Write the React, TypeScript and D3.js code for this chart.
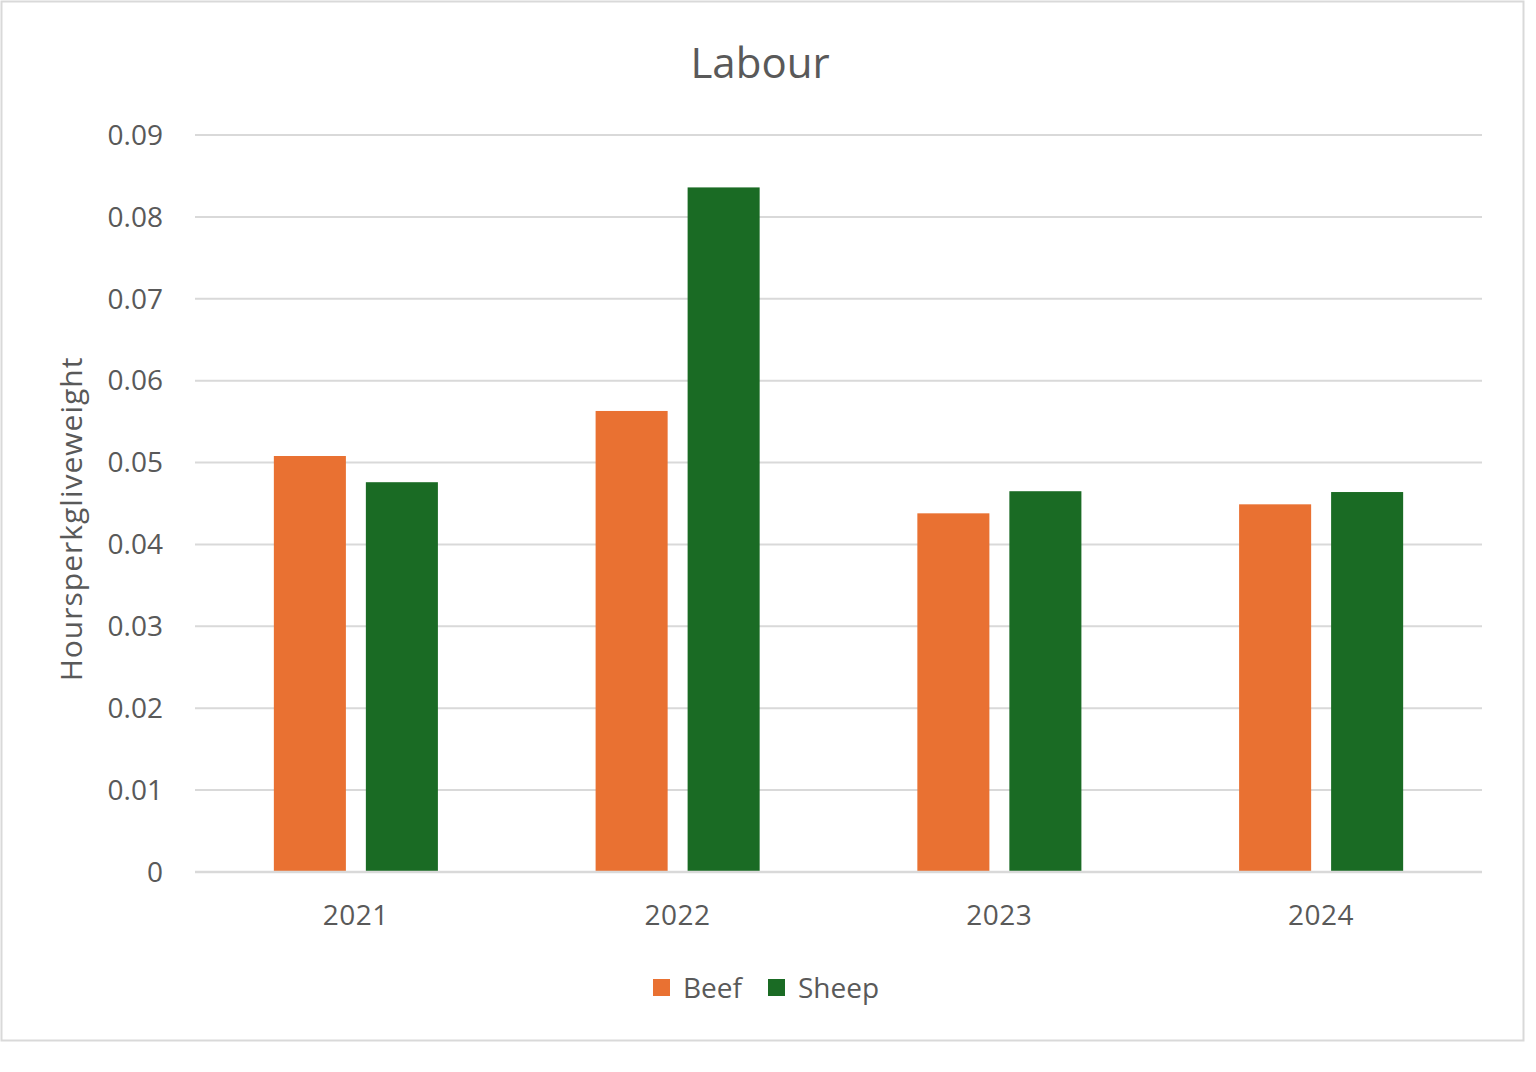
import React, { useEffect, useRef } from "react";
import * as d3 from "d3";

const years = ["2021", "2022", "2023", "2024"];
const seriesNames = ["Beef", "Sheep"];
const beefValues = [0.0508, 0.0563, 0.0438, 0.0449];
const sheepValues = [0.0476, 0.0836, 0.0465, 0.0464];
const yTicks = [0, 0.01, 0.02, 0.03, 0.04, 0.05, 0.06, 0.07, 0.08, 0.09];
const colors = ["#E97132", "#1A6B24"];

const W = 1536;
const H = 1072;
const FONT = "'Open Sans', sans-serif";
const TEXT = "#595959";

const App = () => {
  const svgRef = useRef<SVGSVGElement>(null);

  useEffect(() => {
    const svg = d3.select(svgRef.current);
    svg.selectAll("*").remove();

    const margin = { top: 135, right: 54, bottom: 200, left: 195 };
    const plotW = 1482 - margin.left;
    const plotH = 872 - margin.top;

    // chart frame
    svg
      .append("rect")
      .attr("x", 1.5)
      .attr("y", 1.5)
      .attr("width", 1522)
      .attr("height", 1039)
      .attr("fill", "#fff")
      .attr("stroke", "#d9d9d9")
      .attr("stroke-width", 2);

    svg
      .append("text")
      .attr("x", 760)
      .attr("y", 78)
      .attr("text-anchor", "middle")
      .attr("font-family", FONT)
      .attr("font-size", 42)
      .attr("fill", TEXT)
      .text("Labour");

    const g = svg.append("g").attr("transform", `translate(${margin.left},${margin.top})`);

    const x0 = d3.scaleBand().domain(years).range([0, plotW]).padding(0);
    const x1 = d3
      .scaleBand()
      .domain(seriesNames)
      .range([0, x0.bandwidth()])
      .paddingInner(0.217)
      .paddingOuter(0.857);
    const y = d3.scaleLinear().domain([0, 0.09]).range([plotH, 0]);

    // gridlines
    g.selectAll(".grid")
      .data(yTicks.filter((t) => t > 0))
      .enter()
      .append("line")
      .attr("x1", 0)
      .attr("x2", plotW)
      .attr("y1", (d) => y(d))
      .attr("y2", (d) => y(d))
      .attr("stroke", "#d9d9d9")
      .attr("stroke-width", 2);

    // y tick labels
    g.selectAll(".ytick")
      .data(yTicks)
      .enter()
      .append("text")
      .attr("x", -32)
      .attr("y", (d) => y(d))
      .attr("dy", "0.35em")
      .attr("text-anchor", "end")
      .attr("font-family", FONT)
      .attr("font-size", 28)
      .attr("fill", TEXT)
      .text((d) => (d === 0 ? "0" : d.toFixed(2)));

    const rows = years.map((yr, i) => ({
      year: yr,
      values: [beefValues[i], sheepValues[i]],
    }));

    const groups = g
      .selectAll(".grp")
      .data(rows)
      .enter()
      .append("g")
      .attr("transform", (d) => `translate(${x0(d.year)},0)`);

    groups
      .selectAll("rect")
      .data((d) => d.values.map((v, j) => ({ key: seriesNames[j], v, j })))
      .enter()
      .append("rect")
      .attr("x", (d) => x1(d.key)!)
      .attr("y", (d) => y(d.v))
      .attr("width", x1.bandwidth())
      .attr("height", (d) => plotH - y(d.v))
      .attr("fill", (d) => colors[d.j]);

    // baseline
    g.append("line")
      .attr("x1", 0)
      .attr("x2", plotW)
      .attr("y1", plotH)
      .attr("y2", plotH)
      .attr("stroke", "#d9d9d9")
      .attr("stroke-width", 2.5);

    // x labels
    g.selectAll(".xlab")
      .data(years)
      .enter()
      .append("text")
      .attr("x", (d) => x0(d)! + x0.bandwidth() / 2)
      .attr("y", plotH + 53)
      .attr("text-anchor", "middle")
      .attr("font-family", FONT)
      .attr("font-size", 28)
      .attr("letter-spacing", 0.5)
      .attr("fill", TEXT)
      .text((d) => d);

    // y axis title
    svg
      .append("text")
      .attr("transform", `translate(82,${519}) rotate(-90)`)
      .attr("text-anchor", "middle")
      .attr("font-family", FONT)
      .attr("font-size", 30)
      .attr("letter-spacing", 1)
      .attr("fill", TEXT)
      .text("Hoursperkgliveweight");

    // legend
    const legend = svg.append("g");
    const legendX = [653, 768];
    seriesNames.forEach((name, i) => {
      legend
        .append("rect")
        .attr("x", legendX[i])
        .attr("y", 979)
        .attr("width", 17)
        .attr("height", 17)
        .attr("fill", colors[i]);
      legend
        .append("text")
        .attr("x", legendX[i] + 30)
        .attr("y", 988)
        .attr("dy", "0.35em")
        .attr("font-family", FONT)
        .attr("font-size", 28)
        .attr("fill", TEXT)
        .text(name);
    });
  }, []);

  return (
    <svg
      ref={svgRef}
      width={W}
      height={H}
      style={{ position: "absolute", left: 0, top: 0, background: "#fff" }}
    />
  );
};

export default App;
